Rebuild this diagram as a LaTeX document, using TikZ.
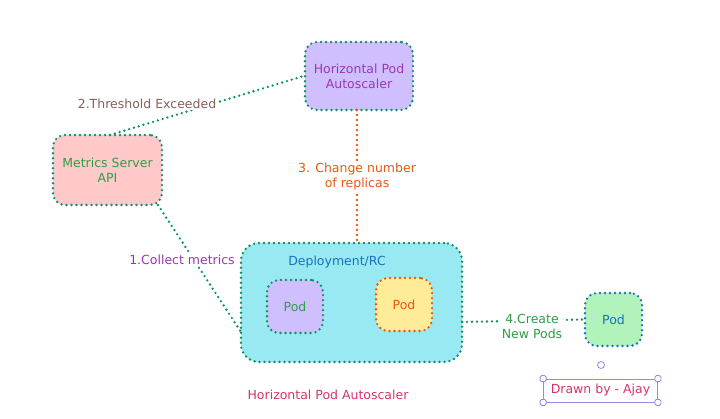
\documentclass[tikz,border=0pt]{standalone}
\usepackage{fontspec}
\setmainfont{DejaVu Sans}
\definecolor{boxgreen}{HTML}{099268}
\definecolor{lavender}{HTML}{D0BFFF}
\definecolor{rosefill}{HTML}{FFC9C9}
\definecolor{cyanfill}{HTML}{99E9F2}
\definecolor{yellowfill}{HTML}{FFEC99}
\definecolor{greenfill}{HTML}{B2F2BB}
\definecolor{hpaorange}{HTML}{E8590C}
\definecolor{hpapurple}{HTML}{9C36B5}
\definecolor{hpablue}{HTML}{1971C2}
\definecolor{hpabrown}{HTML}{846358}
\definecolor{hpapink}{HTML}{D6336C}
\definecolor{hpatext}{HTML}{2F9E44}
\definecolor{handle}{HTML}{8C8CF0}

\begin{document}
\begin{tikzpicture}
      [ x=1pt, y=-1pt
      , dots/.style={line width=2.6pt, line cap=round, dash pattern=on 0pt off 5pt}
      , card/.style={draw, dots, rounded corners=12pt, inner sep=0pt,
          font=\fontsize{12.5}{15}\selectfont, align=center}
      , link/.style={dots, draw}
      , lbl/.style={font=\fontsize{12.5}{15}\selectfont, align=center, inner sep=1pt}
      ]
    \useasboundingbox (0,0) rectangle (720,419);

    \node[card, boxgreen, fill=lavender, minimum width=108pt, minimum height=68pt,
      text=hpapurple] (HPA) at (359,76) {Horizontal Pod\\Autoscaler};
    \node[card, boxgreen, fill=rosefill, minimum width=109pt, minimum height=70pt,
      text=hpatext] (MS) at (107.5,170) {Metrics Server\\API};
    \node[card, boxgreen, fill=cyanfill, minimum width=221pt, minimum height=119pt,
      rounded corners=18pt] (DEP) at (351.5,302.5) {};
    \node[lbl, text=hpablue] (DL) at (337,262) {Deployment/RC};
    \node[card, boxgreen, fill=lavender, minimum width=56pt, minimum height=53pt,
      text=hpatext] (P1) at (295,306.5) {Pod};
    \node[card, hpaorange, fill=yellowfill, minimum width=56pt, minimum height=53pt,
      text=hpaorange] (P2) at (404,304.5) {Pod};
    \node[card, hpablue, fill=greenfill, minimum width=57pt, minimum height=53pt,
      text=hpablue] (NP) at (613.5,319.5) {Pod};

    \coordinate (MSt) at (110,135);
    \coordinate (MSb) at (158,205);
    \coordinate (DEPl) at (241,332);
    \coordinate (DEPr) at (462,322);
    \coordinate (HPAb) at (357,110);
    \coordinate (DEPt) at (357,243);

    \draw[link, boxgreen]
    (MSt) -- (HPA.west)
    (MSb) -- (DEPl)
    (DEPr) -- (NP.west);

    \draw[link, hpaorange] (HPAb) -- (DEPt);

    \node[lbl, text=hpabrown, fill=white] (L2) at (147,104) {2.Threshold Exceeded};
    \node[lbl, text=hpaorange, fill=white] (L3) at (357,177) {3. Change number\\of replicas};
    \node[lbl, text=hpapurple, fill=white] (L1) at (182,260) {1.Collect metrics};
    \node[lbl, text=hpatext, fill=white] (L4) at (532,326) {4.Create\\New Pods};

    \node[lbl, text=hpapink] (TT) at (328,395) {Horizontal Pod Autoscaler};

    % selected text box
    \node[lbl, text=hpapink, draw=handle, line width=0.8pt, minimum width=114pt,
      minimum height=23pt] (SIG) at (600.5,390.5) {Drawn by - Ajay};
    \foreach \c in {north west, north east, south west, south east}
      \draw[handle, fill=white, line width=0.8pt, rounded corners=1.5pt]
        (SIG.\c) ++(-3,-3) rectangle ++(6,6);
    \draw[handle, fill=white, line width=0.8pt] (601,365) circle (3.5pt);

  \end{tikzpicture}
\end{document}
